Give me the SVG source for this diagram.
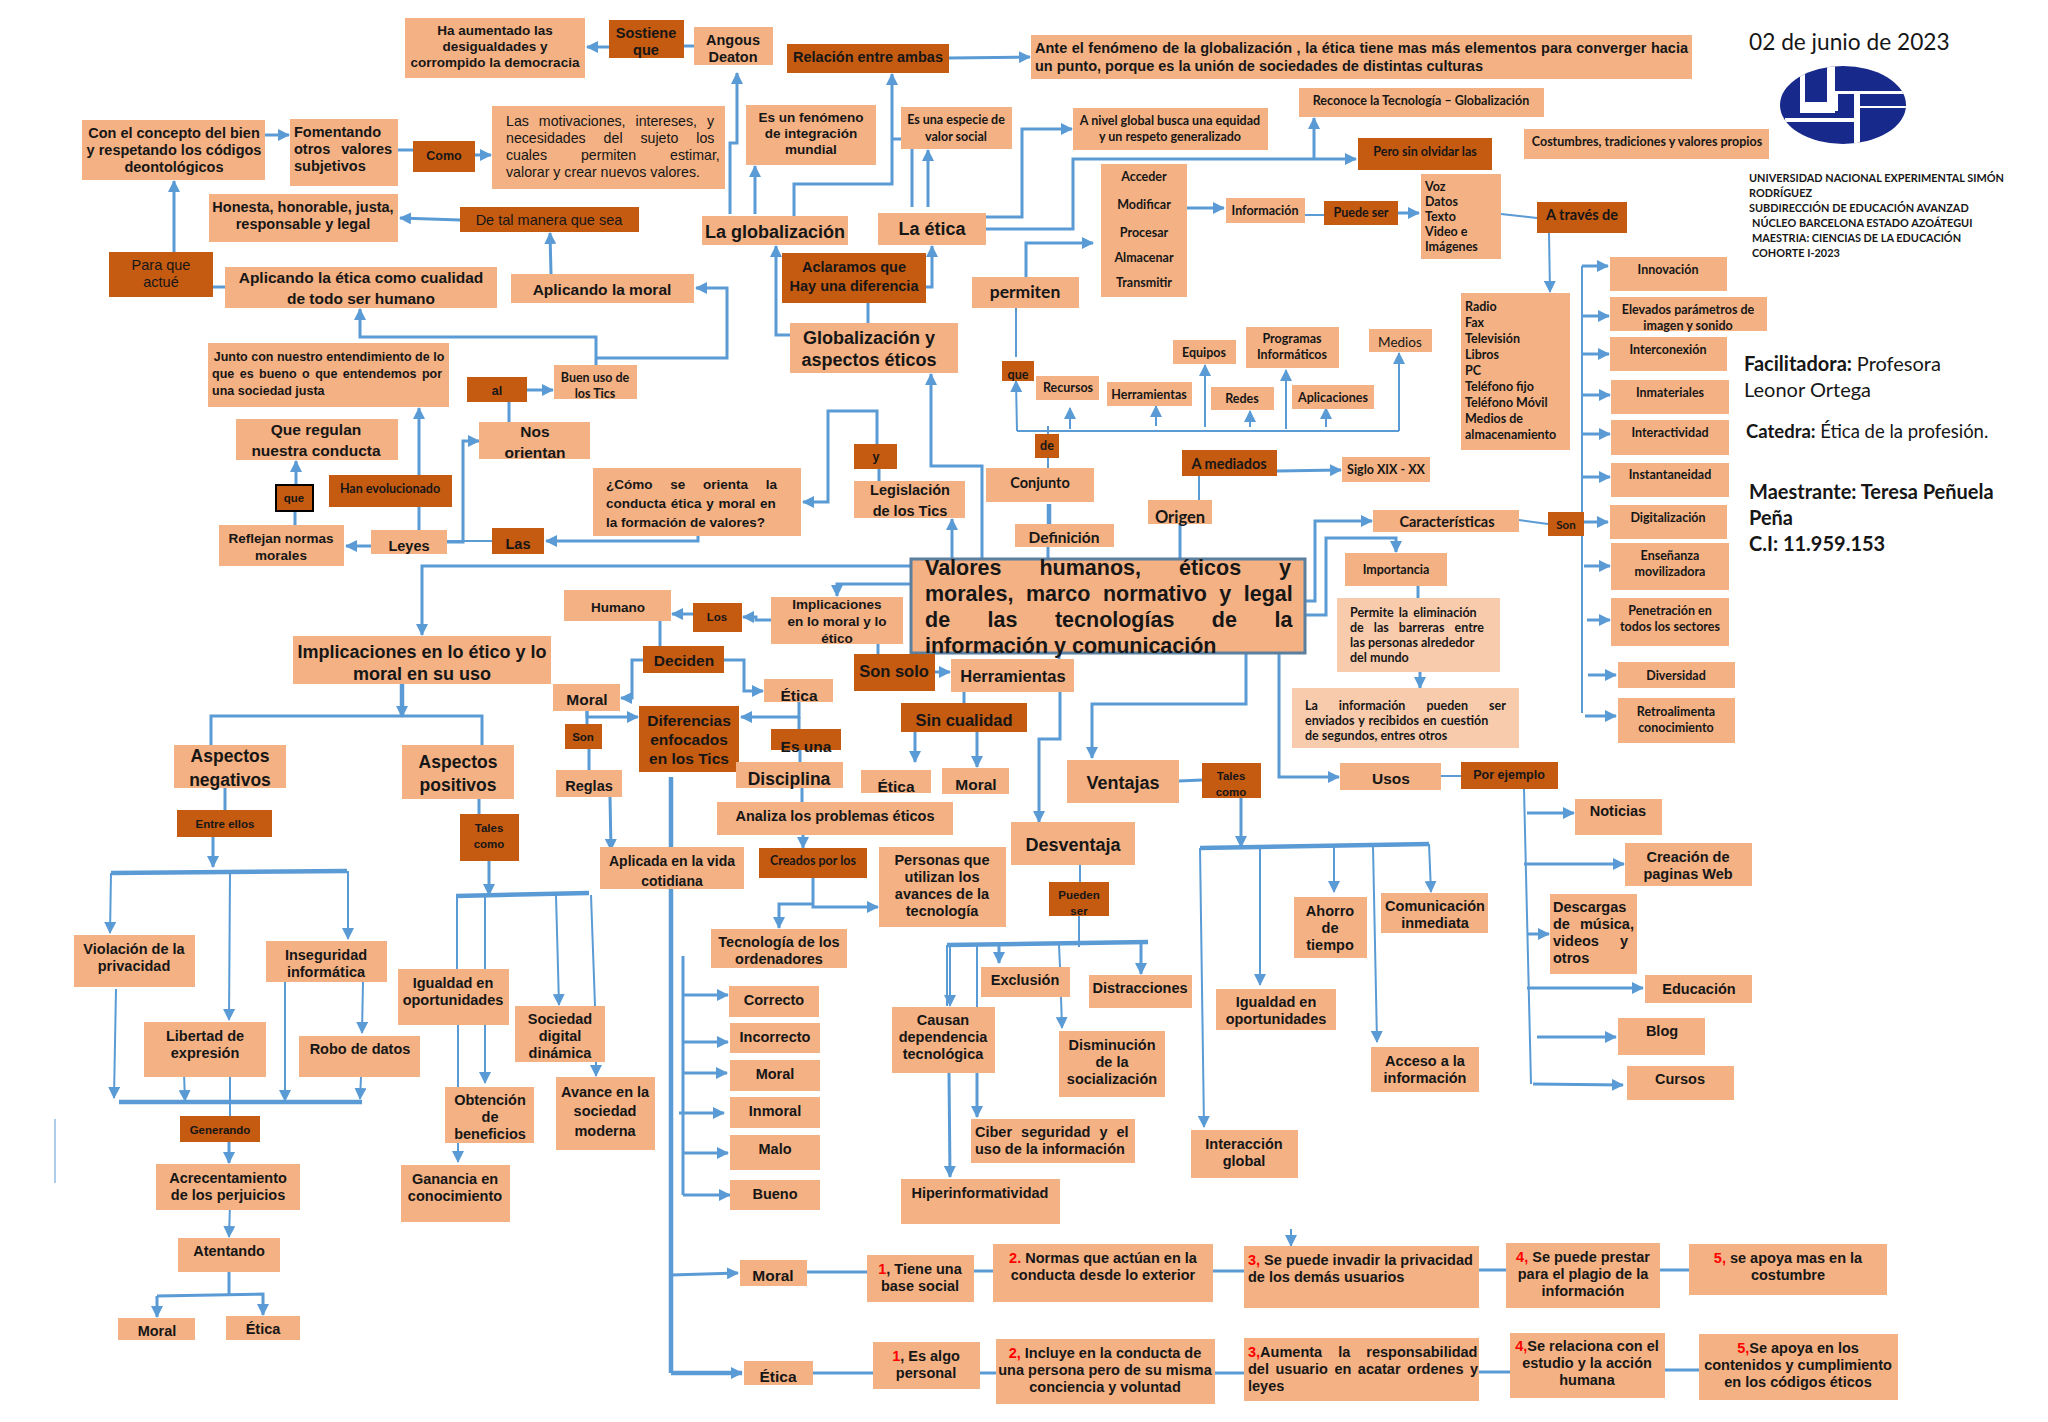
<svg xmlns="http://www.w3.org/2000/svg" width="2048" height="1422" viewBox="0 0 2048 1422">
<style>
.b{fill:#f4b183}.l2{fill:#f8cbad}.d{fill:#c55a11}
.c{fill:none;stroke:#5b9bd5;stroke-width:3}.w{stroke-width:4.5}.s{stroke-width:2}
.m{marker-end:url(#a)}
text{font-family:"Liberation Sans",Arial,sans-serif;font-weight:700;fill:#161616;text-anchor:middle}
.r{font-weight:400}.st{text-anchor:start}
.q{font-family:Lato,"Open Sans",sans-serif}
.f10{font-size:10.5px}.f11{font-size:11.5px}.f12{font-size:12.5px}.f13{font-size:13.5px}.f14{font-size:14.5px}.f15{font-size:15.5px}.f16{font-size:16.5px}.f17{font-size:17.5px}.f18{font-size:18px}
.red{fill:#f00}
</style>
<defs><marker id="a" markerUnits="userSpaceOnUse" markerWidth="12" markerHeight="12" refX="11" refY="6" orient="auto"><path d="M0 0L12 6L0 12z" fill="#5b9bd5"/></marker>
<clipPath id="lg"><ellipse cx="1843" cy="105" rx="63" ry="39"/></clipPath></defs>
<rect width="2048" height="1422" fill="#fff"/>
<g id="connectors">
<path class="c m" d="M609 47H587"/><path class="c" d="M684 46H694"/>
<path class="c m" d="M730 214V143H737V73"/><path class="c m" d="M755 214V166"/>
<path class="c m" d="M794 216V184H892V74"/><path class="c" d="M912 207V139H892"/><path class="c m" d="M928 207V150"/>
<path class="c m" d="M949 58L1030 57"/><path class="c m" d="M265 135H289"/><path class="c" d="M398 150H413"/><path class="c m" d="M475 155H491"/>
<path class="c m" d="M174 252V181"/><path class="c" d="M213 287H225"/><path class="c m" d="M460 220L400 218"/><path class="c m" d="M551 274L550 233"/>
<path class="c m" d="M596 365V337H360V309"/><path class="c m" d="M596 358H727V288H696"/><path class="c m" d="M527 390H553"/><path class="c" d="M509 402V422"/>
<path class="c m" d="M371 546H346"/><path class="c" d="M295 525V511"/><path class="c m" d="M296 484V461"/><path class="c" d="M419 530V507"/><path class="c m" d="M419 475V408"/>
<path class="c m" d="M447 542H463V441H479"/><path class="c s" d="M447 541H492"/><path class="c m" d="M698 536V541H546"/>
<path class="c m" d="M877 444V411H828V502H803"/><path class="c" d="M879 469V481"/><path class="c m" d="M952 559V519"/>
<path class="c m" d="M982 559V466H931V374"/><path class="c" d="M868 323V303"/><path class="c m" d="M790 335H776V246"/><path class="c m" d="M926 287H932V246"/>
<path class="c m" d="M986 217H1022V129H1072"/><path class="c m" d="M986 229H1073V159H1356"/><path class="c m" d="M1314 159V118"/>
<path class="c m" d="M1026 277V243H1093"/><path class="c s" d="M1016 304V357"/>
<path class="c s" d="M1399 431H1017"/><path class="c s m" d="M1017 431L1016 381"/><path class="c s m" d="M1070 429V408"/><path class="c s m" d="M1156 426V406"/><path class="c s m" d="M1205 427V365"/><path class="c s m" d="M1250 427V411"/><path class="c s m" d="M1286 429V370"/><path class="c s m" d="M1326 427V408"/><path class="c s m" d="M1399 431V353"/>
<path class="c s" d="M1048 426V434M1048 458V468"/><path class="c w" d="M1049 504V524"/><path class="c" d="M1048 547V559"/>
<path class="c" d="M1180 524V559"/><path class="c s" d="M1199 476V500"/><path class="c m" d="M1277 471L1341 470"/>
<path class="c m" d="M1305 601H1315V521H1372"/><path class="c m" d="M1305 615H1326V538H1396V552"/><path class="c" d="M1418 586V598"/><path class="c m" d="M1420 672V688"/>
<path class="c s" d="M1519 520L1548 524"/><path class="c s" d="M1582 266V713"/>
<path class="c m" d="M1582 266H1608"/><path class="c m" d="M1583 316H1609"/><path class="c m" d="M1583 354H1609"/><path class="c m" d="M1583 395H1610"/><path class="c m" d="M1583 434H1610"/><path class="c m" d="M1583 477H1610"/><path class="c m" d="M1583 522H1608"/><path class="c m" d="M1584 566H1610"/><path class="c m" d="M1587 620H1610"/><path class="c m" d="M1588 675H1616"/><path class="c m" d="M1585 716H1616"/>
<path class="c s" d="M1501 214L1537 218"/><path class="c s m" d="M1549 233L1550 292"/><path class="c m" d="M1187 208H1224"/><path class="c s" d="M1305 215H1324"/><path class="c m" d="M1398 213H1419"/>
<path class="c m" d="M911 566H422V635"/><path class="c m" d="M911 584H837V596"/><path class="c m" d="M771 620H756V617H743"/><path class="c m" d="M693 614H672"/><path class="c" d="M660 621V646"/>
<path class="c m" d="M643 660H632V698H621"/><path class="c m" d="M724 660H744V691H763"/><path class="c m" d="M587 711V717H638"/><path class="c" d="M587 711V724M589 749V770"/>
<path class="c m" d="M799 702V717H741"/><path class="c" d="M799 717V729M800 750V762M802 788V802"/><path class="c m" d="M803 835V848"/>
<path class="c m" d="M813 878V907H878"/><path class="c m" d="M813 904H779V928"/><path class="c m" d="M610 797L611 850"/>
<path class="c w" d="M671 777V1373"/><path class="c m" d="M671 1275L738 1273"/><path class="c w m" d="M671 1373H742"/>
<path class="c" d="M683 956V1195"/><path class="c m" d="M683 995H728"/><path class="c m" d="M683 1042H728"/><path class="c m" d="M683 1073H727"/><path class="c m" d="M679 1113H724"/><path class="c m" d="M683 1153H728"/><path class="c m" d="M683 1195H730"/>
<path class="c" d="M878 644V654"/><path class="c m" d="M935 672H950"/><path class="c" d="M1059 653V659M964 692V703"/><path class="c m" d="M915 732V762"/><path class="c m" d="M977 732V767"/>
<path class="c m" d="M1060 692V739H1039V822"/><path class="c m" d="M1246 653V704H1092V758"/><path class="c m" d="M1279 653V777H1339"/>
<path class="c" d="M1179 781L1202 780"/><path class="c m" d="M1241 798V847"/><path class="c w" d="M1200 848L1429 844"/>
<path class="c s m" d="M1200 848L1204 1127"/><path class="c s m" d="M1260 848V985"/><path class="c s m" d="M1334 845V892"/><path class="c s m" d="M1373 846L1377 1042"/><path class="c s m" d="M1429 844L1431 892"/>
<path class="c s" d="M1441 776H1461"/><path class="c s" d="M1524 789L1531 1084"/>
<path class="c m" d="M1527 813H1574"/><path class="c m" d="M1524 864H1624"/><path class="c m" d="M1527 934H1549"/><path class="c m" d="M1527 988H1643"/><path class="c m" d="M1537 1037H1616"/><path class="c m" d="M1533 1084L1623 1085"/>
<path class="c s" d="M1080 865V882M1079 916V947"/><path class="c w" d="M947 945L1148 942"/>
<path class="c s" d="M947 945V1006"/><path class="c s m" d="M950 947V1006"/><path class="c s" d="M977 943V1007"/><path class="c m" d="M977 1073V1117"/><path class="c m" d="M949 1073L950 1177"/><path class="c m" d="M999 945V963"/><path class="c s" d="M1059 945L1060 967"/><path class="c s m" d="M1061 997L1062 1028"/><path class="c m" d="M1141 943V974"/>
<path class="c w m" d="M402 684V717"/><path class="c" d="M211 745V716H482V745"/>
<path class="c" d="M225 788V810"/><path class="c m" d="M213 837V867"/><path class="c w" d="M111 873L347 871"/>
<path class="c s m" d="M111 873L110 933"/><path class="c s m" d="M230 873L229 1020"/><path class="c s m" d="M348 871V939"/>
<path class="c s m" d="M116 989L114 1098"/><path class="c s m" d="M184 1073L185 1101"/><path class="c s m" d="M285 974V1101"/><path class="c s m" d="M363 982L362 1033"/><path class="c s m" d="M361 1077L360 1099"/>
<path class="c w" d="M119 1102H362"/><path class="c s" d="M230 1077V1116"/><path class="c m" d="M229 1142V1163"/><path class="c s m" d="M230 1204L229 1237"/><path class="c" d="M229 1272V1295"/><path class="c m" d="M157 1296L263 1294V1315"/><path class="c m" d="M157 1296V1317"/>
<path class="c" d="M479 799V814"/><path class="c m" d="M489 861V895"/><path class="c w" d="M456 896L589 893"/>
<path class="c s" d="M457 896V969"/><path class="c s" d="M485 896V969"/><path class="c s m" d="M556 895L559 1005"/><path class="c s" d="M591 895L595 1006"/><path class="c s m" d="M596 1062V1076"/><path class="c s m" d="M485 1025V1083"/><path class="c s" d="M458 1025V1087"/><path class="c s m" d="M458 1143V1162"/>
<path class="c s" d="M55 1119V1183" style="stroke-width:1"/>
<path class="c" d="M807 1272H867M974 1271H993M1213 1271H1244M1479 1270H1506M1660 1270H1689"/><path class="c s m" d="M1291 1229V1246"/>
<path class="c" d="M813 1373H873M980 1373H996M1215 1373H1244M1479 1372H1510M1665 1370H1699"/>
</g>
<g id="n_ha"><rect class="b" x="405" y="18" width="180" height="60"/><text class="f13" x="495" y="35">Ha aumentado las<tspan x="495" dy="16">desigualdades y</tspan><tspan x="495" dy="16">corrompido la democracia</tspan></text></g>
<g id="n_sostiene"><rect class="d" x="609" y="20" width="75" height="38"/><text class="f14" x="646" y="38">Sostiene<tspan x="646" dy="17">que</tspan></text></g>
<g id="n_angous"><rect class="b" x="694" y="27" width="79" height="38"/><text class="f14" x="733" y="45">Angous<tspan x="733" dy="17">Deaton</tspan></text></g>
<g id="n_relacion"><rect class="d" x="787" y="44" width="162" height="29"/><text class="f14" x="868" y="62">Relación entre ambas</text></g>
<g id="n_ante"><rect class="b" x="1031" y="35" width="661" height="44"/><text class="f14 st" x="1035" y="53" style="word-spacing:.5px">Ante el fenómeno de la globalización , la ética tiene mas más elementos para converger hacia<tspan x="1035" dy="18" style="word-spacing:0">un punto, porque es la unión de sociedades de distintas culturas</tspan></text></g>
<g id="n_concepto"><rect class="b" x="82" y="120" width="183" height="60"/><text class="f14" x="174" y="138">Con el concepto del bien<tspan x="174" dy="17">y respetando los códigos</tspan><tspan x="174" dy="17">deontológicos</tspan></text></g>
<g id="n_fomentando"><rect class="b" x="290" y="119" width="108" height="67"/><text class="f14 st" x="294" y="137">Fomentando<tspan x="294" dy="17" style="word-spacing:7px">otros valores</tspan><tspan x="294" dy="17">subjetivos</tspan></text></g>
<g id="n_como"><rect class="d" x="413" y="141" width="62" height="31"/><text class="f12" x="444" y="160">Como</text></g>
<g id="n_motiv"><rect class="b" x="492" y="106" width="233" height="83"/><text class="r st" x="506" y="126" style="font-size:14.2px;word-spacing:6px">Las motivaciones, intereses, y<tspan x="506" dy="17" style="word-spacing:14px">necesidades del sujeto los</tspan><tspan x="506" dy="17" style="word-spacing:30px">cuales permiten estimar,</tspan><tspan x="506" dy="17" style="word-spacing:0">valorar y crear nuevos valores.</tspan></text></g>
<g id="n_fenomeno"><rect class="b" x="746" y="105" width="130" height="60"/><text class="f13" x="811" y="122">Es un fenómeno<tspan x="811" dy="16">de integración</tspan><tspan x="811" dy="16">mundial</tspan></text></g>
<g id="n_especie"><rect class="b" x="901" y="107" width="111" height="42"/><text class="f12 q" x="956" y="124">Es una especie de<tspan x="956" dy="17">valor social</tspan></text></g>
<g id="n_anivel"><rect class="b" x="1073" y="108" width="195" height="42"/><text class="f12 q" x="1170" y="125">A nivel global busca una equidad<tspan x="1170" dy="16">y un respeto generalizado</tspan></text></g>
<g id="n_reconoce"><rect class="b" x="1299" y="88" width="245" height="29"/><text class="f12 q" x="1421" y="105">Reconoce la Tecnología – Globalización</text></g>
<g id="n_pero"><rect class="d" x="1358" y="138" width="134" height="32"/><text class="f12 q" x="1425" y="156">Pero sin olvidar las</text></g>
<g id="n_costumbres"><rect class="b" x="1524" y="129" width="245" height="30"/><text class="f12 q" x="1647" y="146">Costumbres, tradiciones y valores propios</text></g>
<g id="n_honesta"><rect class="b" x="209" y="194" width="189" height="48"/><text class="f14" x="303" y="212">Honesta, honorable, justa,<tspan x="303" dy="17">responsable y legal</tspan></text></g>
<g id="n_detal"><rect class="d" x="460" y="207" width="179" height="25"/><text class="f14 r" x="549" y="225">De tal manera que sea</text></g>
<g id="n_laglob"><rect class="b" x="702" y="216" width="146" height="29"/><text class="f18" x="775" y="238">La globalización</text></g>
<g id="n_laetica"><rect class="b" x="878" y="213" width="108" height="32"/><text class="f18" x="932" y="235">La ética</text></g>
<g id="n_para"><rect class="d" x="109" y="252" width="104" height="45"/><text class="f14 r" x="161" y="270">Para que<tspan x="161" dy="17">actué</tspan></text></g>
<g id="n_apetica"><rect class="b" x="225" y="267" width="272" height="41"/><text class="f15" x="361" y="283">Aplicando la ética como cualidad<tspan x="361" dy="21">de todo ser humano</tspan></text></g>
<g id="n_apmoral"><rect class="b" x="511" y="274" width="183" height="29"/><text class="f15" x="602" y="295">Aplicando la moral</text></g>
<g id="n_aclaramos"><rect class="d" x="782" y="253" width="144" height="50"/><text class="f14" x="854" y="272">Aclaramos que<tspan x="854" dy="19">Hay una diferencia</tspan></text></g>
<g id="n_globaspectos"><rect class="b" x="790" y="323" width="168" height="50"/><text class="f18" x="869" y="344">Globalización y<tspan x="869" dy="22">aspectos éticos</tspan></text></g>
<g id="n_junto"><rect class="b" x="208" y="343" width="241" height="64"/><text class="f12" x="329" y="361">Junto con nuestro entendimiento de lo<tspan x="212" dy="17" style="text-anchor:start;word-spacing:2px">que es bueno o  que entendemos por</tspan><tspan x="212" dy="17" style="text-anchor:start">una sociedad justa</tspan></text></g>
<g id="n_al"><rect class="d" x="467" y="377" width="60" height="25"/><text class="f12" x="497" y="395">al</text></g>
<g id="n_buen"><rect class="b" x="554" y="365" width="83" height="34"/><text class="f12 q" x="595" y="382">Buen uso de<tspan x="595" dy="16">los Tics</tspan></text></g>
<g id="n_regulan"><rect class="b" x="236" y="419" width="162" height="41"/><text class="f15" x="316" y="435">Que regulan<tspan x="316" dy="21">nuestra conducta</tspan></text></g>
<g id="n_nos"><rect class="b" x="479" y="422" width="111" height="37"/><text class="f15" x="535" y="437">Nos<tspan x="535" dy="21">orientan</tspan></text></g>
<g id="n_comose"><rect class="b" x="593" y="468" width="208" height="68"/><text class="f13 st" x="606" y="489" style="word-spacing:14px">¿Cómo se orienta la<tspan x="606" dy="19" style="word-spacing:1px">conducta ética y moral en</tspan><tspan x="606" dy="19" style="word-spacing:0">la formación de valores?</tspan></text></g>
<g id="n_y"><rect class="d" x="854" y="444" width="43" height="25"/><text class="f12" x="876" y="461">y</text></g>
<g id="n_legis"><rect class="b" x="854" y="481" width="111" height="37"/><text class="f14" x="910" y="495">Legislación<tspan x="910" dy="21">de los Tics</tspan></text></g>
<g id="n_que1"><rect class="d" x="276" y="485" width="37" height="26" style="stroke:#000;stroke-width:2"/><text class="f11" x="294" y="502">que</text></g>
<g id="n_han"><rect class="d" x="329" y="475" width="123" height="32"/><text class="f12 q" x="390" y="493">Han evolucionado</text></g>
<g id="n_reflejan"><rect class="b" x="219" y="525" width="125" height="41"/><text class="f13" x="281" y="543">Reflejan normas<tspan x="281" dy="17">morales</tspan></text></g>
<g id="n_leyes"><rect class="b" x="371" y="530" width="76" height="24"/><text class="f14" x="409" y="551">Leyes</text></g>
<g id="n_las"><rect class="d" x="492" y="528" width="52" height="26"/><text class="f14" x="518" y="549">Las</text></g>
<g id="n_acceder"><rect class="b" x="1101" y="164" width="86" height="133"/><text class="f12 q" x="1144" y="181">Acceder<tspan x="1144" dy="28">Modificar</tspan><tspan x="1144" dy="28">Procesar</tspan><tspan x="1144" dy="25">Almacenar</tspan><tspan x="1144" dy="25">Transmitir</tspan></text></g>
<g id="n_info"><rect class="b" x="1226" y="198" width="79" height="25"/><text class="f12 q" x="1265" y="215">Información</text></g>
<g id="n_puede"><rect class="d" x="1324" y="201" width="74" height="24"/><text class="f12 q" x="1361" y="217">Puede ser</text></g>
<g id="n_voz"><rect class="b" x="1421" y="174" width="80" height="85"/><text class="f12 q st" x="1425" y="191">Voz<tspan x="1425" dy="15">Datos</tspan><tspan x="1425" dy="15">Texto</tspan><tspan x="1425" dy="15">Video e</tspan><tspan x="1425" dy="15">Imágenes</tspan></text></g>
<g id="n_atraves"><rect class="d" x="1537" y="202" width="90" height="31"/><text class="f14 q" x="1582" y="220">A través de</text></g>
<g id="n_radio"><rect class="b" x="1461" y="293" width="109" height="157"/><text class="f12 q st" x="1465" y="311">Radio<tspan x="1465" dy="16">Fax</tspan><tspan x="1465" dy="16">Televisión</tspan><tspan x="1465" dy="16">Libros</tspan><tspan x="1465" dy="16">PC</tspan><tspan x="1465" dy="16">Teléfono fijo</tspan><tspan x="1465" dy="16">Teléfono Móvil</tspan><tspan x="1465" dy="16">Medios de</tspan><tspan x="1465" dy="16">almacenamiento</tspan></text></g>
<g id="n_permiten"><rect class="b" x="972" y="277" width="107" height="31"/><text class="f17 q" x="1025" y="298">permiten</text></g>
<g id="n_que2"><rect class="d" x="1002" y="361" width="32" height="20"/><text class="f12 q" x="1018" y="379">que</text></g>
<g id="n_recursos"><rect class="b" x="1036" y="376" width="63" height="24"/><text class="f12 q" x="1068" y="392">Recursos</text></g>
<g id="n_herr1"><rect class="b" x="1107" y="382" width="85" height="24"/><text class="f12 q" x="1149" y="399">Herramientas</text></g>
<g id="n_equipos"><rect class="b" x="1173" y="340" width="63" height="24"/><text class="f12 q" x="1204" y="357">Equipos</text></g>
<g id="n_redes"><rect class="b" x="1211" y="387" width="63" height="23"/><text class="f12 q" x="1242" y="403">Redes</text></g>
<g id="n_programas"><rect class="b" x="1246" y="327" width="93" height="41"/><text class="f12 q" x="1292" y="343">Programas<tspan x="1292" dy="16">Informáticos</tspan></text></g>
<g id="n_aplic"><rect class="b" x="1292" y="385" width="82" height="24"/><text class="f12 q" x="1333" y="402">Aplicaciones</text></g>
<g id="n_medios"><rect class="b" x="1369" y="329" width="63" height="23"/><text class="f13 q r" x="1400" y="347">Medios</text></g>
<g id="n_de"><rect class="d" x="1035" y="434" width="24" height="24"/><text class="f12 q" x="1047" y="450">de</text></g>
<g id="n_conjunto"><rect class="b" x="986" y="468" width="108" height="34"/><text class="f14 q" x="1040" y="488">Conjunto</text></g>
<g id="n_definicion"><rect class="b" x="1015" y="524" width="99" height="23"/><text class="f15 q" x="1064" y="543">Definición</text></g>
<g id="n_origen"><rect class="b" x="1148" y="500" width="64" height="24"/><text class="f16 q" x="1180" y="523">Origen</text></g>
<g id="n_amed"><rect class="d" x="1182" y="450" width="95" height="26"/><text class="f14 q" x="1229" y="469">A mediados</text></g>
<g id="n_siglo"><rect class="b" x="1342" y="457" width="88" height="25"/><text class="f12 q" x="1386" y="474">Siglo XIX - XX</text></g>
<g id="n_carac"><rect class="b" x="1373" y="510" width="146" height="22"/><text class="f14 q" x="1447" y="527">Características</text></g>
<g id="n_son1"><rect class="d" x="1548" y="512" width="36" height="24"/><text class="f11 q" x="1566" y="529">Son</text></g>
<g id="n_importancia"><rect class="b" x="1345" y="553" width="102" height="33"/><text class="f12 q" x="1396" y="574">Importancia</text></g>
<g id="n_permite"><rect class="l2" x="1337" y="598" width="163" height="74"/><text class="f12 q st" x="1350" y="617" style="word-spacing:2px">Permite la eliminación<tspan x="1350" dy="15" style="word-spacing:7px">de las barreras entre</tspan><tspan x="1350" dy="15" style="word-spacing:0">las personas alrededor</tspan><tspan x="1350" dy="15" style="word-spacing:0">del mundo</tspan></text></g>
<g id="n_lainfo"><rect class="l2" x="1292" y="688" width="227" height="60"/><text class="f12 q st" x="1305" y="710" style="word-spacing:18px">La información pueden ser<tspan x="1305" dy="15" style="word-spacing:1px">enviados y recibidos en cuestión</tspan><tspan x="1305" dy="15" style="word-spacing:0">de segundos, entres otros</tspan></text></g>
<g id="n_innov"><rect class="b" x="1610" y="257" width="117" height="34"/><text class="f12 q" x="1668" y="274">Innovación</text></g>
<g id="n_elevados"><rect class="b" x="1610" y="297" width="157" height="34"/><text class="f12 q" x="1688" y="314">Elevados parámetros  de<tspan x="1688" dy="16">imagen y sonido</tspan></text></g>
<g id="n_inter"><rect class="b" x="1610" y="337" width="117" height="34"/><text class="f12 q" x="1668" y="354">Interconexión</text></g>
<g id="n_inmat"><rect class="b" x="1611" y="380" width="118" height="34"/><text class="f12 q" x="1670" y="397">Inmateriales</text></g>
<g id="n_interac"><rect class="b" x="1611" y="420" width="118" height="35"/><text class="f12 q" x="1670" y="437">Interactividad</text></g>
<g id="n_instant"><rect class="b" x="1611" y="463" width="118" height="34"/><text class="f12 q" x="1670" y="479">Instantaneidad</text></g>
<g id="n_digit"><rect class="b" x="1610" y="505" width="117" height="34"/><text class="f12 q" x="1668" y="522">Digitalización</text></g>
<g id="n_ense"><rect class="b" x="1611" y="543" width="118" height="47"/><text class="f12 q" x="1670" y="560">Enseñanza<tspan x="1670" dy="16">movilizadora</tspan></text></g>
<g id="n_penet"><rect class="b" x="1611" y="598" width="118" height="48"/><text class="f12 q" x="1670" y="615">Penetración en<tspan x="1670" dy="16">todos los sectores</tspan></text></g>
<g id="n_divers"><rect class="b" x="1618" y="662" width="117" height="26"/><text class="f12 q" x="1676" y="680">Diversidad</text></g>
<g id="n_retro"><rect class="b" x="1618" y="698" width="117" height="45"/><text class="f12 q" x="1676" y="716">Retroalimenta<tspan x="1676" dy="16">conocimiento</tspan></text></g>
<g id="n_main"><rect class="b" x="911" y="559" width="394" height="94" style="stroke:#5b7f9e;stroke-width:3"/><text x="925" y="575" style="text-anchor:start;font-size:21.5px;word-spacing:32px">Valores humanos, éticos y<tspan x="925" dy="26" style="word-spacing:6.5px">morales, marco normativo y legal</tspan><tspan x="925" dy="26" style="word-spacing:31.5px">de las tecnologías de la</tspan><tspan x="925" dy="26" style="word-spacing:0">información y comunicación</tspan></text></g>
<g id="n_implic"><rect class="b" x="293" y="636" width="258" height="48"/><text x="422" y="658" style="font-size:18px">Implicaciones  en lo ético y lo<tspan x="422" dy="22">moral en su uso</tspan></text></g>
<g id="n_humano"><rect class="b" x="564" y="590" width="107" height="31"/><text class="f13" x="618" y="612">Humano</text></g>
<g id="n_los"><rect class="d" x="693" y="603" width="49" height="29"/><text class="f11" x="717" y="621">Los</text></g>
<g id="n_implic2"><rect class="b" x="771" y="597" width="132" height="47"/><text class="f13" x="837" y="609">Implicaciones<tspan x="837" dy="17">en lo moral y lo</tspan><tspan x="837" dy="17">ético</tspan></text></g>
<g id="n_deciden"><rect class="d" x="643" y="646" width="81" height="27"/><text class="f15" x="684" y="666">Deciden</text></g>
<g id="n_sonsolo"><rect class="d" x="854" y="654" width="81" height="37"/><text class="f16" x="894" y="677">Son solo</text></g>
<g id="n_herr2"><rect class="b" x="951" y="659" width="123" height="33"/><text class="f16" x="1013" y="682">Herramientas</text></g>
<g id="n_etica1"><rect class="b" x="764" y="679" width="69" height="23"/><text class="f15" x="799" y="701">Ética</text></g>
<g id="n_moral1"><rect class="b" x="553" y="684" width="67" height="27"/><text class="f15" x="587" y="705">Moral</text></g>
<g id="n_sincu"><rect class="d" x="901" y="703" width="126" height="29"/><text class="f16" x="964" y="726">Sin cualidad</text></g>
<g id="n_difer"><rect class="d" x="639" y="706" width="100" height="66"/><text class="f15" x="689" y="726">Diferencias<tspan x="689" dy="19">enfocados</tspan><tspan x="689" dy="19">en los Tics</tspan></text></g>
<g id="n_son2"><rect class="d" x="565" y="724" width="37" height="25"/><text class="f11" x="583" y="741">Son</text></g>
<g id="n_esuna"><rect class="d" x="771" y="729" width="70" height="21"/><text class="f15" x="806" y="752">Es una</text></g>
<g id="n_reglas"><rect class="b" x="556" y="770" width="66" height="27"/><text class="f14" x="589" y="791">Reglas</text></g>
<g id="n_disc"><rect class="b" x="736" y="762" width="107" height="26"/><text class="f17" x="789" y="785">Disciplina</text></g>
<g id="n_etica2"><rect class="b" x="861" y="770" width="70" height="23"/><text class="f15" x="896" y="792">Ética</text></g>
<g id="n_moral2"><rect class="b" x="942" y="768" width="67" height="26"/><text class="f15" x="976" y="790">Moral</text></g>
<g id="n_ventajas"><rect class="b" x="1067" y="760" width="112" height="43"/><text class="f18" x="1123" y="789">Ventajas</text></g>
<g id="n_tales2"><rect class="d" x="1202" y="763" width="59" height="35"/><text class="f11" x="1231" y="780">Tales<tspan x="1231" dy="16">como</tspan></text></g>
<g id="n_usos"><rect class="b" x="1340" y="763" width="101" height="27"/><text class="f15" x="1391" y="784">Usos</text></g>
<g id="n_porej"><rect class="d" x="1461" y="762" width="97" height="27"/><text class="f12" x="1509" y="779">Por ejemplo</text></g>
<g id="n_analiza"><rect class="b" x="717" y="802" width="236" height="33"/><text class="f14" x="835" y="821">Analiza los problemas  éticos</text></g>
<g id="n_aplicada"><rect class="b" x="600" y="847" width="144" height="42"/><text x="672" y="866" style="font-size:14px">Aplicada en la vida<tspan x="672" dy="20">cotidiana</tspan></text></g>
<g id="n_creados"><rect class="d" x="759" y="848" width="108" height="30"/><text class="f12 q" x="813" y="865">Creados por los</text></g>
<g id="n_personas"><rect class="b" x="879" y="847" width="127" height="80"/><text class="f14" x="942" y="865">Personas que<tspan x="942" dy="17">utilizan los</tspan><tspan x="942" dy="17">avances de la</tspan><tspan x="942" dy="17">tecnología</tspan></text></g>
<g id="n_desv"><rect class="b" x="1011" y="822" width="124" height="43"/><text class="f18" x="1073" y="851">Desventaja</text></g>
<g id="n_pueden"><rect class="d" x="1049" y="882" width="60" height="34"/><text class="f11" x="1079" y="899">Pueden<tspan x="1079" dy="16">ser</tspan></text></g>
<g id="n_tecno"><rect class="b" x="711" y="929" width="136" height="39"/><text class="f14" x="779" y="947">Tecnología de los<tspan x="779" dy="17">ordenadores</tspan></text></g>
<g id="n_correcto"><rect class="b" x="729" y="986" width="90" height="31"/><text class="f14" x="774" y="1005">Correcto</text></g>
<g id="n_incorrecto"><rect class="b" x="730" y="1023" width="90" height="30"/><text class="f14" x="775" y="1042">Incorrecto</text></g>
<g id="n_moral3"><rect class="b" x="730" y="1060" width="90" height="31"/><text class="f14" x="775" y="1079">Moral</text></g>
<g id="n_inmoral"><rect class="b" x="730" y="1097" width="90" height="31"/><text class="f14" x="775" y="1116">Inmoral</text></g>
<g id="n_malo"><rect class="b" x="730" y="1135" width="90" height="35"/><text class="f14" x="775" y="1154">Malo</text></g>
<g id="n_bueno"><rect class="b" x="730" y="1180" width="90" height="30"/><text class="f14" x="775" y="1199">Bueno</text></g>
<g id="n_asneg"><rect class="b" x="174" y="745" width="112" height="43"/><text class="f17" x="230" y="762">Aspectos<tspan x="230" dy="24">negativos</tspan></text></g>
<g id="n_aspos"><rect class="b" x="402" y="745" width="112" height="54"/><text class="f17" x="458" y="768">Aspectos<tspan x="458" dy="23">positivos</tspan></text></g>
<g id="n_entre"><rect class="d" x="177" y="810" width="95" height="27"/><text class="f11" x="225" y="828">Entre ellos</text></g>
<g id="n_tales1"><rect class="d" x="460" y="814" width="59" height="47"/><text class="f11" x="489" y="832">Tales<tspan x="489" dy="16">como</tspan></text></g>
<g id="n_viol"><rect class="b" x="74" y="935" width="121" height="52"/><text class="f14" x="134" y="954">Violación de la<tspan x="134" dy="17">privacidad</tspan></text></g>
<g id="n_inseg"><rect class="b" x="266" y="941" width="121" height="41"/><text class="f14" x="326" y="960">Inseguridad<tspan x="326" dy="17">informática</tspan></text></g>
<g id="n_liber"><rect class="b" x="144" y="1022" width="122" height="55"/><text class="f14" x="205" y="1041">Libertad de<tspan x="205" dy="17">expresión</tspan></text></g>
<g id="n_robo"><rect class="b" x="299" y="1036" width="121" height="41"/><text class="f14" x="360" y="1054">Robo de datos</text></g>
<g id="n_igual1"><rect class="b" x="398" y="969" width="111" height="56"/><text class="f14" x="453" y="988">Igualdad en<tspan x="453" dy="17">oportunidades</tspan></text></g>
<g id="n_socdig"><rect class="b" x="515" y="1006" width="90" height="56"/><text class="f14" x="560" y="1024">Sociedad<tspan x="560" dy="17">digital</tspan><tspan x="560" dy="17">dinámica</tspan></text></g>
<g id="n_avance"><rect class="b" x="556" y="1077" width="99" height="73"/><text class="f14 st" x="561" y="1097" style="word-spacing:0">Avance en la<tspan x="605" dy="19" style="text-anchor:middle">sociedad</tspan><tspan x="605" dy="20" style="text-anchor:middle">moderna</tspan></text></g>
<g id="n_obt"><rect class="b" x="445" y="1087" width="89" height="56"/><text class="f14" x="490" y="1105">Obtención<tspan x="490" dy="17">de</tspan><tspan x="490" dy="17">beneficios</tspan></text></g>
<g id="n_gen"><rect class="d" x="180" y="1116" width="80" height="26"/><text class="f11" x="220" y="1134">Generando</text></g>
<g id="n_acre"><rect class="b" x="156" y="1164" width="144" height="46"/><text class="f14" x="228" y="1183">Acrecentamiento<tspan x="228" dy="17">de los perjuicios</tspan></text></g>
<g id="n_gan"><rect class="b" x="401" y="1165" width="109" height="57"/><text class="f14" x="455" y="1184">Ganancia en<tspan x="455" dy="17">conocimiento</tspan></text></g>
<g id="n_atent"><rect class="b" x="178" y="1238" width="102" height="34"/><text class="f14" x="229" y="1256">Atentando</text></g>
<g id="n_moral4"><rect class="b" x="118" y="1318" width="77" height="22"/><text class="f14" x="157" y="1336">Moral</text></g>
<g id="n_etica4"><rect class="b" x="226" y="1316" width="74" height="24"/><text class="f14" x="263" y="1334">Ética</text></g>
<g id="n_excl"><rect class="b" x="981" y="967" width="89" height="30"/><text class="f14" x="1025" y="985">Exclusión</text></g>
<g id="n_distr"><rect class="b" x="1089" y="975" width="103" height="33"/><text class="f14" x="1140" y="993">Distracciones</text></g>
<g id="n_causan"><rect class="b" x="892" y="1007" width="103" height="66"/><text class="f14" x="943" y="1025">Causan<tspan x="943" dy="17">dependencia</tspan><tspan x="943" dy="17">tecnológica</tspan></text></g>
<g id="n_dism"><rect class="b" x="1059" y="1031" width="106" height="66"/><text class="f14" x="1112" y="1050">Disminución<tspan x="1112" dy="17">de la</tspan><tspan x="1112" dy="17">socialización</tspan></text></g>
<g id="n_ciber"><rect class="b" x="971" y="1119" width="164" height="44"/><text class="f14 st" x="975" y="1137" style="word-spacing:5px">Ciber seguridad y el<tspan x="975" dy="17" style="word-spacing:0">uso de la información</tspan></text></g>
<g id="n_hiper"><rect class="b" x="901" y="1179" width="159" height="45"/><text class="f14" x="980" y="1198">Hiperinformatividad</text></g>
<g id="n_interac2"><rect class="b" x="1191" y="1130" width="107" height="48"/><text class="f14" x="1244" y="1149">Interacción<tspan x="1244" dy="17">global</tspan></text></g>
<g id="n_igual2"><rect class="b" x="1216" y="989" width="120" height="41"/><text class="f14" x="1276" y="1007">Igualdad en<tspan x="1276" dy="17">oportunidades</tspan></text></g>
<g id="n_ahorro"><rect class="b" x="1294" y="897" width="73" height="61"/><text class="f14" x="1330" y="916">Ahorro<tspan x="1330" dy="17">de</tspan><tspan x="1330" dy="17">tiempo</tspan></text></g>
<g id="n_comun"><rect class="b" x="1381" y="893" width="107" height="40"/><text class="f14" x="1435" y="911">Comunicación<tspan x="1435" dy="17">inmediata</tspan></text></g>
<g id="n_acceso"><rect class="b" x="1371" y="1047" width="108" height="45"/><text class="f14" x="1425" y="1066">Acceso a la<tspan x="1425" dy="17">información</tspan></text></g>
<g id="n_noticias"><rect class="b" x="1575" y="799" width="87" height="36"/><text class="f14" x="1618" y="816">Noticias</text></g>
<g id="n_creacion"><rect class="b" x="1625" y="843" width="127" height="43"/><text class="f14" x="1688" y="862">Creación de<tspan x="1688" dy="17">paginas Web</tspan></text></g>
<g id="n_desc"><rect class="b" x="1550" y="894" width="87" height="80"/><text class="f14 st" x="1553" y="912">Descargas<tspan x="1553" dy="17" style="word-spacing:6px">de música,</tspan><tspan x="1553" dy="17" style="word-spacing:17px">videos y</tspan><tspan x="1553" dy="17">otros</tspan></text></g>
<g id="n_educ"><rect class="b" x="1645" y="975" width="107" height="28"/><text class="f14" x="1699" y="994">Educación</text></g>
<g id="n_blog"><rect class="b" x="1618" y="1018" width="87" height="37"/><text class="f14" x="1662" y="1036">Blog</text></g>
<g id="n_cursos"><rect class="b" x="1627" y="1066" width="107" height="34"/><text class="f14" x="1680" y="1084">Cursos</text></g>
<g id="n_moral5"><rect class="b" x="740" y="1260" width="67" height="26"/><text class="f15" x="773" y="1281">Moral</text></g>
<g id="n_etica5"><rect class="b" x="744" y="1361" width="69" height="24"/><text class="f15" x="778" y="1382">Ética</text></g>
<g id="n_m1"><rect class="b" x="867" y="1255" width="107" height="47"/><text class="f14" x="920" y="1274"><tspan class="red">1</tspan>, Tiene una<tspan x="920" dy="17">base social</tspan></text></g>
<g id="n_m2"><rect class="b" x="993" y="1244" width="220" height="58"/><text class="f14" x="1103" y="1263"><tspan class="red">2.</tspan> Normas que actúan en la<tspan x="1103" dy="17">conducta desde lo exterior</tspan></text></g>
<g id="n_m3"><rect class="b" x="1244" y="1246" width="235" height="62"/><text class="f14 st" x="1248" y="1265"><tspan class="red">3,</tspan> Se puede invadir la privacidad<tspan x="1248" dy="17">de los demás usuarios</tspan></text></g>
<g id="n_m4"><rect class="b" x="1506" y="1243" width="154" height="65"/><text class="f14" x="1583" y="1262"><tspan class="red">4,</tspan> Se puede prestar<tspan x="1583" dy="17">para el plagio de la</tspan><tspan x="1583" dy="17">información</tspan></text></g>
<g id="n_m5"><rect class="b" x="1689" y="1244" width="198" height="51"/><text class="f14" x="1788" y="1263"><tspan class="red">5,</tspan> se apoya mas en la<tspan x="1788" dy="17">costumbre</tspan></text></g>
<g id="n_e1"><rect class="b" x="873" y="1342" width="107" height="47"/><text class="f14" x="926" y="1361"><tspan class="red">1</tspan>, Es algo<tspan x="926" dy="17">personal</tspan></text></g>
<g id="n_e2"><rect class="b" x="996" y="1339" width="219" height="65"/><text class="f14" x="1105" y="1358"><tspan class="red">2,</tspan> Incluye en la conducta de<tspan x="1105" dy="17">una persona pero de su misma</tspan><tspan x="1105" dy="17">conciencia y voluntad</tspan></text></g>
<g id="n_e3"><rect class="b" x="1244" y="1338" width="235" height="63"/><text class="f14 st" x="1248" y="1357" style="word-spacing:12px"><tspan class="red">3,</tspan>Aumenta la responsabilidad<tspan x="1248" dy="17" style="word-spacing:2.5px">del usuario en acatar ordenes y</tspan><tspan x="1248" dy="17" style="word-spacing:0">leyes</tspan></text></g>
<g id="n_e4"><rect class="b" x="1510" y="1333" width="155" height="65"/><text class="f14" x="1587" y="1351"><tspan class="red">4,</tspan>Se relaciona con el<tspan x="1587" dy="17">estudio y la acción</tspan><tspan x="1587" dy="17">humana</tspan></text></g>
<g id="n_e5"><rect class="b" x="1699" y="1334" width="199" height="66"/><text class="f14" x="1798" y="1353"><tspan class="red">5,</tspan>Se apoya en los<tspan x="1798" dy="17">contenidos y cumplimiento</tspan><tspan x="1798" dy="17">en los códigos éticos</tspan></text></g>
<g id="logo"><ellipse cx="1843" cy="105" rx="63" ry="39" fill="#17298a"/><g clip-path="url(#lg)" fill="#fff"><rect x="1800" y="72" width="5" height="40"/><rect x="1827" y="60" width="8" height="53"/><rect x="1800" y="102" width="35" height="11"/><rect x="1785" y="118" width="72" height="4"/><rect x="1854" y="92" width="6" height="55"/><rect x="1835" y="91" width="72" height="3"/><rect x="1835" y="91" width="3" height="20"/><rect x="1860" y="106" width="47" height="2"/></g></g>
<g id="header">
<text class="q r st" x="1749" y="50" style="font-size:22.7px">02 de junio de 2023</text>
<text class="q st" style="font-size:10.9px" x="1749" y="182">UNIVERSIDAD NACIONAL EXPERIMENTAL SIMÓN<tspan x="1749" dy="15">RODRÍGUEZ</tspan><tspan x="1749" dy="15">SUBDIRECCIÓN DE EDUCACIÓN AVANZAD</tspan><tspan x="1752" dy="15">NÚCLEO BARCELONA ESTADO AZOÁTEGUI</tspan><tspan x="1752" dy="15">MAESTRIA: CIENCIAS DE LA EDUCACIÓN</tspan><tspan x="1752" dy="15">COHORTE I-2023</tspan></text>
<text class="q st" style="font-size:20px" x="1744" y="371">Facilitadora: <tspan class="r">Profesora</tspan><tspan class="r" x="1744" dy="26">Leonor Ortega</tspan></text>
<text class="q st" style="font-size:18.5px" x="1746" y="438">Catedra: <tspan class="r">Ética de la profesión.</tspan></text>
<text class="q st" style="font-size:20px" x="1749" y="499">Maestrante: Teresa Peñuela<tspan x="1749" dy="26">Peña</tspan><tspan x="1749" dy="26">C.I: 11.959.153</tspan></text>
</g>
</svg>
